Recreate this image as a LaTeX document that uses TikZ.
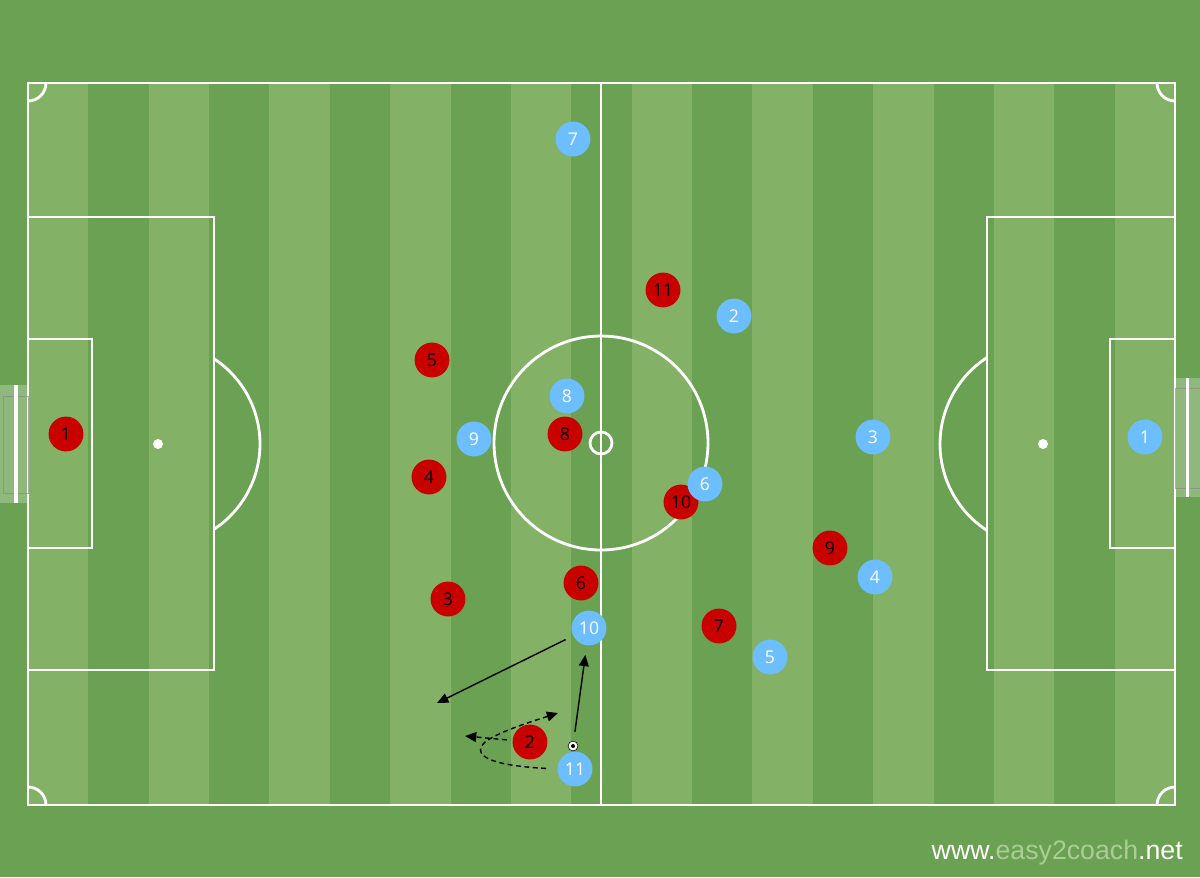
\documentclass[tikz,border=0pt]{standalone}
\usepackage{fontspec}
\setmainfont{Open Sans}
\newfontfamily\markfont{Liberation Sans}
\usetikzlibrary{arrows.meta}

\definecolor{grass}{RGB}{106,161,82}
\definecolor{stripe}{RGB}{131,178,102}
\definecolor{homered}{RGB}{200,0,0}
\definecolor{awayblue}{RGB}{108,190,255}
\definecolor{logogreen}{RGB}{170,206,150}

\tikzset{
  pitchline/.style={white, line width=2pt},
  player/.style={circle, minimum size=24.8pt, inner sep=0pt, font=\fontsize{12.5}{14}\selectfont},
  redp/.style={player, fill=homered, text=black},
  bluep/.style={player, fill=awayblue, text=white},
  pass/.style={-{Triangle[length=8pt,width=7pt]}, line width=1pt},
  run/.style={pass, dash pattern=on 3.5pt off 2.5pt},
}

\begin{document}
\begin{tikzpicture}[x=0.025cm, y=-0.025cm]
  \useasboundingbox (0,0) rectangle (1200,877);
  \fill[grass] (0,0) rectangle (1200,877);

  \foreach \i in {0,2,...,18} {
    \fill[stripe] ({28+60.37*\i},83) rectangle ({88.37+60.37*\i},805);
  }

  \draw[pitchline] (28,83) rectangle (1175,805);
  \draw[pitchline] (601,83) -- (601,805);
  \draw[pitchline] (601,443) circle[radius=107];
  \draw[pitchline] (601,443) circle[radius=11];

  \draw[pitchline] (28,217) rectangle (214,670);
  \draw[pitchline] (28,339) rectangle (92,548);
  \draw[pitchline] (158,444) ++(-56.7:102) arc[start angle=-56.7, end angle=56.7, radius=102];
  \fill[white] (158,444) circle[radius=5];

  \draw[pitchline] (1175,217) rectangle (987,670);
  \draw[pitchline] (1175,339) rectangle (1110,548);
  \draw[pitchline] (1043,444) ++(123:103) arc[start angle=123, end angle=237, radius=103];
  \fill[white] (1043,444) circle[radius=5];

  \draw[pitchline] (46,83) arc[start angle=0, end angle=90, radius=18];
  \draw[pitchline] (1157,83) arc[start angle=180, end angle=90, radius=18];
  \draw[pitchline] (46,805) arc[start angle=0, end angle=-90, radius=18];
  \draw[pitchline] (1157,805) arc[start angle=180, end angle=270, radius=18];

  % goals
  \fill[white, opacity=0.25] (0,385) rectangle (28,503);
  \draw[black!45, opacity=0.7, line width=0.7pt] (3,396) rectangle (28,493);
  \fill[white] (14,385) rectangle (18,503);
  \fill[white, opacity=0.25] (1175,378) rectangle (1200,497);
  \draw[black!45, opacity=0.7, line width=0.7pt] (1175,388) rectangle (1200,488);
  \fill[white] (1186,378) rectangle (1189,497);

  \foreach \n/\x/\y in {1/66/434, 2/530/742, 3/448/599, 4/429/477, 5/432/360, 6/581/583,
                        7/719/626, 8/565/434, 9/830/548, 10/681/502, 11/663/290} {
    \node[redp] (r-\n) at (\x,\y) {\n};
  }

  \foreach \n/\x/\y in {1/1145/437, 2/734/316, 3/873/437, 4/875/577, 5/770/657, 6/705/484,
                        7/573/139, 8/567/396, 9/474/439, 10/589/628, 11/575/769} {
    \node[bluep] (b-\n) at (\x,\y) {\n};
  }

  \node[circle, fill=white, draw=black, line width=0.4pt, inner sep=0pt, minimum size=7pt] (ball) at (573,746) {};
  \fill[black] (ball.center) circle[radius=2];

  \coordinate (pass-end) at (437,703);
  \coordinate (run-end) at (558,713);
  \coordinate (dribble-end) at (465,736);

  \draw[pass, shorten <=6pt] (b-10) -- (pass-end);
  \draw[pass, shorten <=6.5pt, shorten >=6.7pt] (ball) -- (b-10);
  \draw[run, shorten <=8pt] (b-11.west) .. controls (500,766) and (470,758) .. (484,743)
    .. controls (495,733) and (530,722) .. (run-end);
  \draw[run, shorten <=4pt] (r-2) -- (dribble-end);

  \node[font=\markfont\fontsize{19}{22}\selectfont, text=white, anchor=east, inner sep=0pt] (brand)
    at (1183,853) {www.\textcolor{logogreen}{easy2coach}.net};

\end{tikzpicture}
\end{document}
